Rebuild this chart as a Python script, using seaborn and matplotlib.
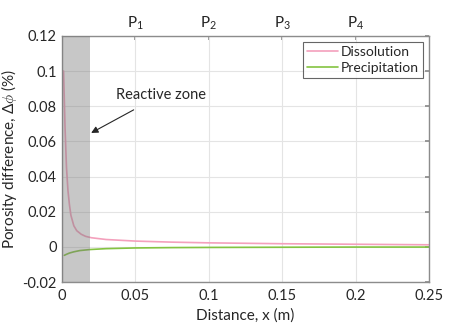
import matplotlib
matplotlib.use("Agg")
import matplotlib.pyplot as plt
import seaborn as sns
import pandas as pd
from matplotlib.patches import Rectangle

# ---- data ----
x_dis = [0.001, 0.002, 0.003, 0.004, 0.005, 0.006, 0.008, 0.010, 0.013, 0.016,
         0.020, 0.030, 0.050, 0.075, 0.100, 0.150, 0.200, 0.250]
dissolution = [0.100, 0.068, 0.045, 0.032, 0.024, 0.018, 0.012, 0.0092, 0.0072,
               0.0060, 0.0052, 0.0042, 0.0033, 0.0027, 0.0023, 0.0018, 0.0015, 0.0012]
x_pre = [0.0015, 0.003, 0.005, 0.008, 0.012, 0.019, 0.030, 0.050, 0.075, 0.100,
         0.150, 0.200, 0.250]
precipitation = [-0.0048, -0.0042, -0.0035, -0.0028, -0.0021, -0.0015, -0.0010,
                 -0.0006, -0.0004, -0.0003, -0.0002, -0.0001, -0.0001]
reactive_zone = (0.0, 0.019)
probe_x = [0.05, 0.10, 0.15, 0.20]
probe_labels = ["P$_1$", "P$_2$", "P$_3$", "P$_4$"]
x_ticks = [0, 0.05, 0.1, 0.15, 0.2, 0.25]
x_ticklabels = ["0", "0.05", "0.1", "0.15", "0.2", "0.25"]
y_ticks = [-0.02, 0, 0.02, 0.04, 0.06, 0.08, 0.1, 0.12]
y_ticklabels = ["-0.02", "0", "0.02", "0.04", "0.06", "0.08", "0.1", "0.12"]

sns.set_theme(style="white")
plt.rcParams['font.family'] = ['Lato', 'DejaVu Sans']
plt.rcParams['mathtext.fontset'] = 'custom'
plt.rcParams['mathtext.rm'] = 'Lato'
plt.rcParams['mathtext.it'] = 'Open Sans:italic'
plt.rcParams['mathtext.bf'] = 'Lato:bold'

df = pd.concat([
    pd.DataFrame({"x": x_dis, "y": dissolution, "series": "Dissolution"}),
    pd.DataFrame({"x": x_pre, "y": precipitation, "series": "Precipitation"}),
])

fig = plt.figure(figsize=(4.74, 3.35), dpi=100)
ax = fig.add_axes([0.131, 0.158, 0.774, 0.735])

sns.lineplot(data=df, x="x", y="y", hue="series", sort=False, estimator=None,
             palette={"Dissolution": "#f4a0bc", "Precipitation": "#84c341"},
             linewidth=1.2, ax=ax, legend=True)

ax.add_patch(Rectangle((reactive_zone[0], -0.02), reactive_zone[1] - reactive_zone[0], 0.14,
                       facecolor="#7a7a7a", alpha=0.42, edgecolor="none", zorder=5))

ax.set_xlim(0, 0.25)
ax.set_ylim(-0.02, 0.12)
ax.set_xticks(x_ticks)
ax.set_xticklabels(x_ticklabels)
ax.set_yticks(y_ticks)
ax.set_yticklabels(y_ticklabels)
ax.grid(True, color="#e4e4e4", linewidth=0.8)
ax.set_axisbelow(True)

for s in ax.spines.values():
    s.set_visible(True)
    s.set_color("#8c8c8c")
    s.set_linewidth(1.0)
ax.tick_params(axis="both", direction="in", length=3, color="#8c8c8c",
               labelsize=10.5, labelcolor="#262626", pad=5, right=True)
ax.tick_params(axis="y", pad=4)

ax.set_xlabel("Distance, x (m)", fontsize=11, color="#262626", labelpad=4)
ax.set_ylabel(r"Porosity difference, $\Delta\it{\phi}$ (%)", fontsize=11,
              color="#262626", labelpad=2)

sec = ax.secondary_xaxis("top")
sec.set_xticks(probe_x)
sec.set_xticklabels(probe_labels)
sec.tick_params(direction="in", length=3, color="#8c8c8c", labelsize=11,
                labelcolor="#262626", pad=3)
sec.spines["top"].set_visible(False)

ax.annotate("Reactive zone", xy=(0.0198, 0.0648), xytext=(0.0675, 0.0864),
            ha="center", va="center", fontsize=10.5, color="#262626",
            arrowprops=dict(arrowstyle="-|>", color="#262626", lw=0.8,
                            mutation_scale=10, shrinkA=7, shrinkB=0),
            zorder=6)

leg = ax.legend(loc="upper right", title=None, fontsize=10, frameon=True,
                fancybox=False, edgecolor="#404040", handlelength=2.2,
                handletextpad=0.2, borderpad=0.3, labelspacing=0.25,
                borderaxespad=0.45)
leg.get_frame().set_linewidth(0.8)
for line in leg.get_lines():
    line.set_linewidth(1.2)

fig.savefig("out.png", dpi=100)
